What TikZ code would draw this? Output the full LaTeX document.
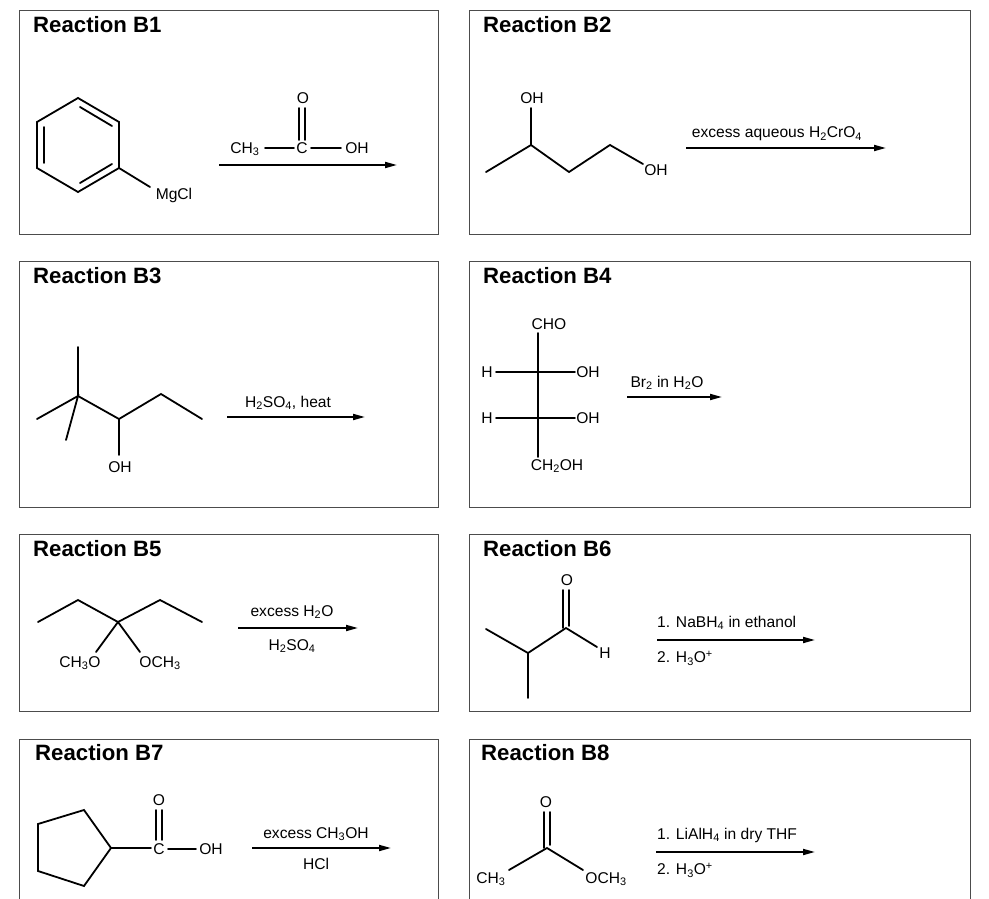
\documentclass[tikz,border=0pt]{standalone}
\usepackage{fontspec}
\setmainfont{Liberation Sans}
\usetikzlibrary{arrows.meta}
\tikzset{
 frame/.style={draw=black!70,line width=0.9pt},
 ttl/.style={anchor=west,inner sep=0,font=\fontsize{22.2}{26}\selectfont\bfseries},
 lbl/.style={inner sep=0,font=\fontsize{15.6}{18}\selectfont},
 bond/.style={line width=1.8pt,line cap=round},
 rxn/.style={line width=1.8pt,-{Triangle[length=12pt,width=6pt]}}
}
\newcommand{\sub}[1]{\textsubscript{#1}}
\begin{document}
\begin{tikzpicture}[x=1pt,y=-1pt]
\useasboundingbox (0,0) rectangle (989,899);
% frames
\draw[frame] (19,10) rectangle (438,234);
\draw[frame] (469,10) rectangle (970,234);
\draw[frame] (19,261) rectangle (438,507);
\draw[frame] (469,261) rectangle (970,507);
\draw[frame] (19,534) rectangle (438,711);
\draw[frame] (469,534) rectangle (970,711);
\draw[frame] (19,905) |- (438,739) -- (438,905);
\draw[frame] (469,905) |- (970,739) -- (970,905);
\node[ttl] (t1) at (33,25) {Reaction B1};
\node[ttl] (t2) at (483,25) {Reaction B2};
\node[ttl] (t3) at (33,276) {Reaction B3};
\node[ttl] (t4) at (483,276) {Reaction B4};
\node[ttl] (t5) at (33,549) {Reaction B5};
\node[ttl] (t6) at (483,549) {Reaction B6};
\node[ttl] (t7) at (35,753) {Reaction B7};
\node[ttl] (t8) at (481,753) {Reaction B8};
% ---- B1
\draw[bond] (78,98)--(119,122)--(119,168)--(78,192)--(37,168)--(37,122)--cycle;
\draw[bond] (80,107)--(112,126);
\draw[bond] (44,127)--(44,163);
\draw[bond] (112,164)--(80,183);
\node[lbl] (mg) at (174,195) {MgCl};
\draw[bond] (119,168)--(150,187);
\node[lbl] (ch3a) at (245,149) {CH\sub{3}};
\node[lbl] (ca) at (302,148) {C};
\node[lbl] (oha) at (357,148) {OH};
\node[lbl] (oa) at (303,98) {O};
\draw[bond] (265,148)--(294,148);
\draw[bond] (311,148)--(341,148);
\draw[bond] (299,108)--(299,140);
\draw[bond] (305,108)--(305,140);
\coordinate (a1s) at (219,165); \coordinate (a1e) at (397,165);
\draw[rxn] (a1s)--(a1e);
% ---- B2
\node[lbl] (ohb1) at (532,98) {OH};
\node[lbl] (ohb2) at (656,170) {OH};
\draw[bond] (531,108)--(531,145);
\draw[bond] (486,172)--(531,145)--(569,172)--(610,145)--(643,164);
\coordinate (a2s) at (686,148); \coordinate (a2e) at (886,148);
\draw[rxn] (a2s)--(a2e);
\node[lbl] (r2) at (777,134) {excess aqueous H\sub{2}CrO\sub{4}};
% ---- B3
\draw[bond] (78,347)--(78,396);
\draw[bond] (37,419)--(78,396)--(66,440);
\draw[bond] (78,396)--(119,419)--(161,394)--(202,419);
\draw[bond] (119,419)--(119,455);
\node[lbl] (oh3) at (120,467) {OH};
\coordinate (a3s) at (227,417); \coordinate (a3e) at (365,417);
\draw[rxn] (a3s)--(a3e);
\node[lbl] (r3) at (288,403) {H\sub{2}SO\sub{4}, heat};
% ---- B4
\node[lbl] (cho) at (549,324) {CHO};
\draw[bond] (538,333)--(538,457);
\node[lbl] (h1) at (487,372) {H};
\node[lbl] (h2) at (487,418) {H};
\node[lbl] (o1) at (588,372) {OH};
\node[lbl] (o2) at (588,418) {OH};
\draw[bond] (496,372)--(575,372);
\draw[bond] (496,418)--(575,418);
\node[lbl] (ch2oh) at (557,466) {CH\sub{2}OH};
\coordinate (a4s) at (627,397); \coordinate (a4e) at (722,397);
\draw[rxn] (a4s)--(a4e);
\node[lbl] (r4) at (667,383) {Br\sub{2} in H\sub{2}O};
% ---- B5
\draw[bond] (38,622)--(78,600)--(118,622)--(160,600)--(202,622);
\draw[bond] (118,622)--(96,652);
\draw[bond] (118,622)--(140,652);
\node[lbl] (m1) at (80,663) {CH\sub{3}O};
\node[lbl] (m2) at (160,663) {OCH\sub{3}};
\coordinate (a5s) at (238,628); \coordinate (a5e) at (358,628);
\draw[rxn] (a5s)--(a5e);
\node[lbl] (r5a) at (292,612) {excess H\sub{2}O};
\node[lbl] (r5b) at (292,646) {H\sub{2}SO\sub{4}};
% ---- B6
\draw[bond] (486,629)--(528,653)--(528,698);
\draw[bond] (528,653)--(566,628)--(597,647);
\draw[bond] (563,628)--(563,590);
\draw[bond] (569,626)--(569,590);
\node[lbl] (o6) at (567,580) {O};
\node[lbl] (h6) at (605,653) {H};
\coordinate (a6s) at (657,640); \coordinate (a6e) at (815,640);
\draw[rxn] (a6s)--(a6e);
\node[lbl,anchor=west] (r6a) at (657,623) {1. NaBH\sub{4} in ethanol};
\node[lbl,anchor=west] (r6b) at (657,658) {2. H\sub{3}O\textsuperscript{+}};
% ---- B7
\draw[bond] (84,810)--(111,848)--(84,886)--(38,871)--(38,824)--cycle;
\draw[bond] (111,848)--(151,848);
\node[lbl] (c7) at (159,849) {C};
\node[lbl] (o7) at (159,800) {O};
\node[lbl] (oh7) at (211,849) {OH};
\draw[bond] (156,810)--(156,840);
\draw[bond] (162,810)--(162,840);
\draw[bond] (168,849)--(196,849);
\coordinate (a7s) at (252,848); \coordinate (a7e) at (391,848);
\draw[rxn] (a7s)--(a7e);
\node[lbl] (r7a) at (316,834) {excess CH\sub{3}OH};
\node[lbl] (r7b) at (316,864) {HCl};
% ---- B8
\node[lbl] (ch3b) at (491,879) {CH\sub{3}};
\node[lbl] (och3b) at (606,879) {OCH\sub{3}};
\node[lbl] (o8) at (546,802) {O};
\draw[bond] (509,870)--(547,848)--(583,870);
\draw[bond] (544,848)--(544,812);
\draw[bond] (550,845)--(550,812);
\coordinate (a8s) at (656,852); \coordinate (a8e) at (815,852);
\draw[rxn] (a8s)--(a8e);
\node[lbl,anchor=west] (r8a) at (657,835) {1. LiAlH\sub{4} in dry THF};
\node[lbl,anchor=west] (r8b) at (657,870) {2. H\sub{3}O\textsuperscript{+}};
\end{tikzpicture}
\end{document}
